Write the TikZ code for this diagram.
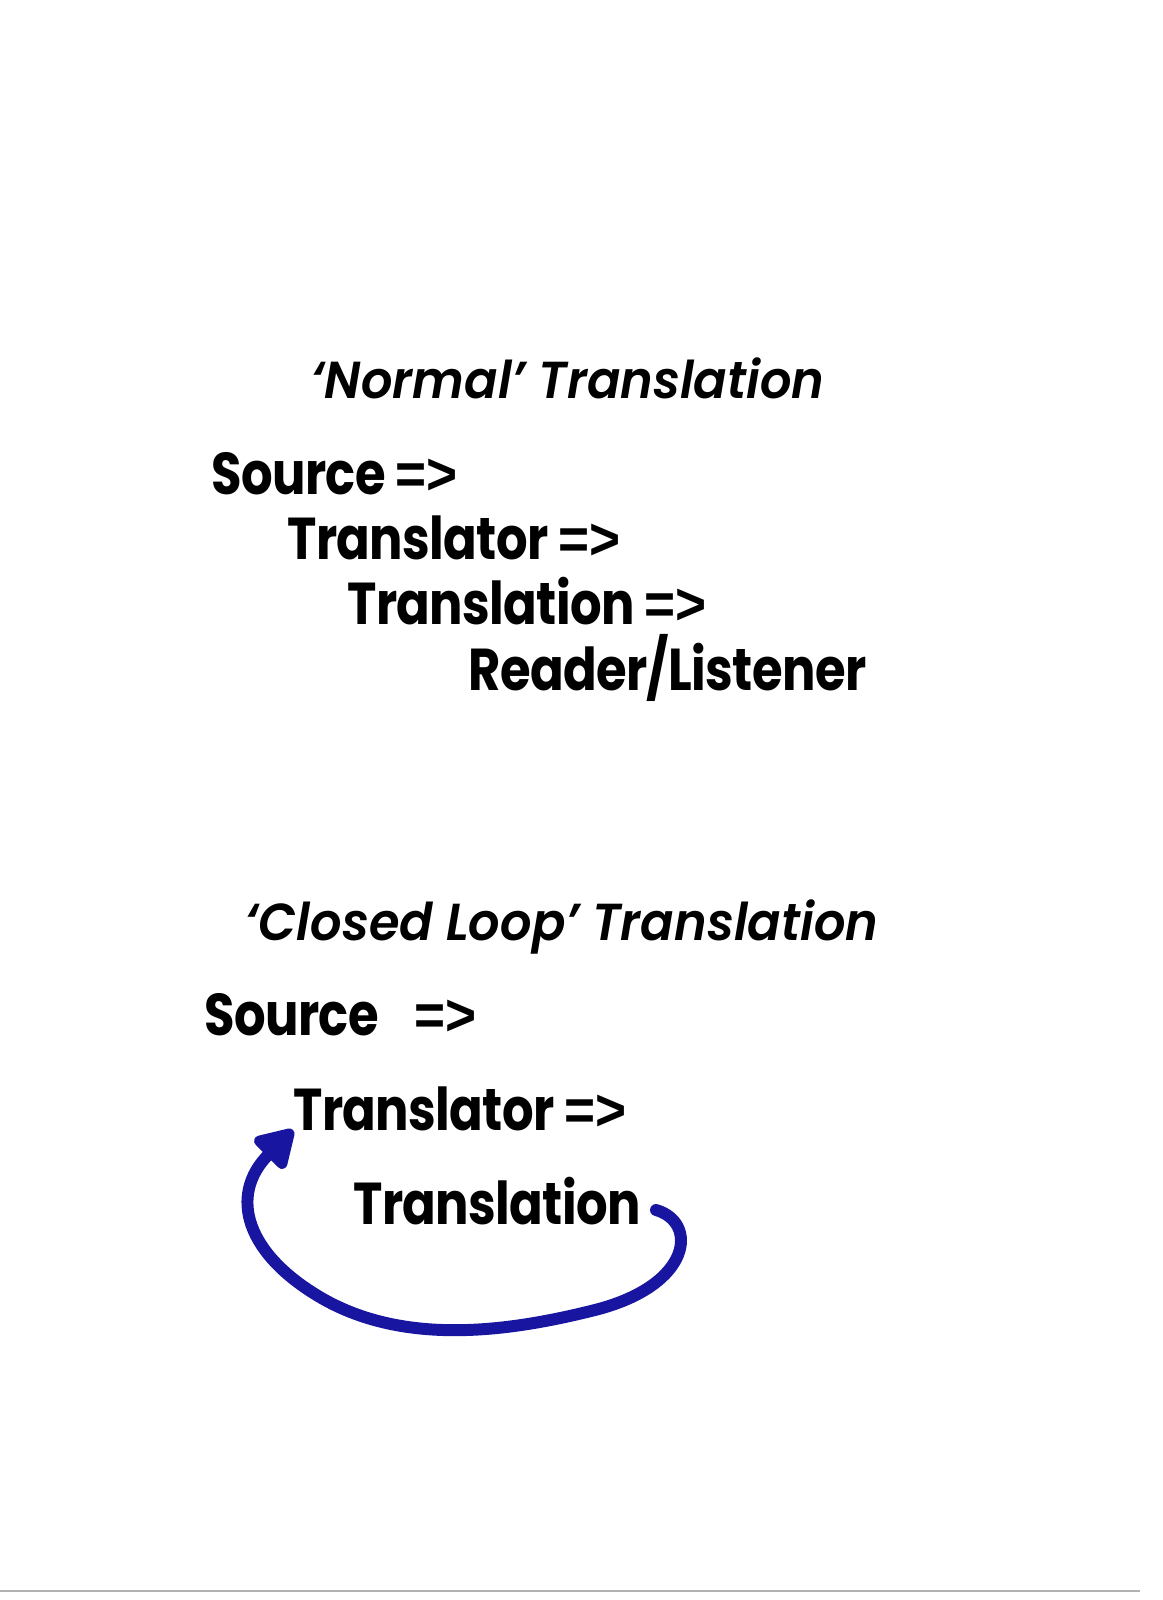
\documentclass[tikz,border=0pt]{standalone}
\usepackage{xcolor}
\usepackage{fontspec}
\setmainfont{Poppins}
\newfontfamily\stagefont{Poppins}[FakeStretch=0.84, LetterSpace=-1]
\newfontfamily\headfont{Poppins SemiBold}[ItalicFont={Poppins SemiBold Italic}, FakeStretch=0.95]
\newfontfamily\chevronfont{Liberation Sans}[FakeStretch=0.9]
\usepackage{tikz}
\usetikzlibrary{arrows.meta}
\tikzset{>=latex}
\definecolor{penblue}{RGB}{24,22,160}
\newcommand{\thento}{{\chevronfont\bfseries =>}}
\tikzstyle{heading} = [anchor=base west, inner sep=0pt, font=\fontsize{37}{40}\selectfont\headfont\itshape]
\tikzstyle{stage} = [anchor=base west, inner sep=0pt, font=\fontsize{42}{46}\selectfont\stagefont\bfseries]
\tikzstyle{loopline} = [-{Triangle[length=30pt, width=34pt, round]}, draw=penblue, line width=8.5pt, line cap=round]

\begin{document}
\begin{tikzpicture}[x=0.025cm, y=-0.025cm]
\useasboundingbox (0,0) rectangle (1163,1600);
% normal translation
\node [heading] (normtitle) at (311, 398) {‘Normal’ Translation};
\node [stage] (nsource) at (211, 494) {Source \thento};
\node [stage] (ntranslator) at (287, 559) {Translator \thento};
\node [stage] (ntranslation) at (347, 624) {Translation \thento};
\node [stage] (nreader) at (468, 690) {Reader/Listener};
% closed loop translation
\node [heading] (looptitle) at (245, 940) {‘Closed Loop’ Translation};
\node [stage] (lsource) at (204, 1035) {Source\hspace{0.6em}\thento};
\node [stage] (ltranslator) at (293, 1130) {Translator \thento};
\node [stage] (ltranslation) at (353, 1224) {Translation};
\coordinate (loopstart) at (656, 1210);
\draw [loopline] (loopstart) .. controls (698,1222) and (693,1285) .. (595,1310)
  .. controls (515,1330) and (410,1347) .. (325,1300)
  .. controls (245,1255) and (228,1195) .. (ltranslator.base west);
% scan edge
\draw [gray!60, line width=1.5pt] (0,1591) -- (1140,1591);
\end{tikzpicture}
\end{document}
